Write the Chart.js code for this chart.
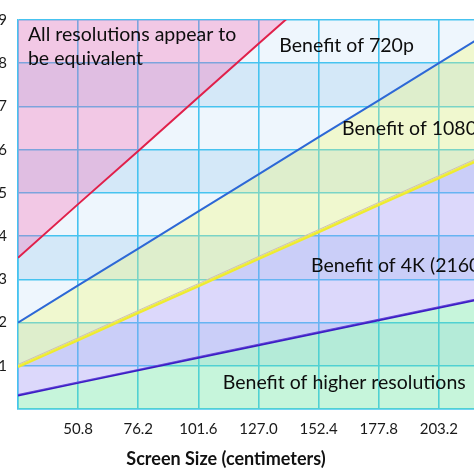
<!DOCTYPE html>
<html>
<head>
<meta charset="utf-8">
<script src="https://cdn.jsdelivr.net/npm/chart.js@4.4.1/dist/chart.umd.min.js"></script>
<style>
  html, body { margin: 0; padding: 0; background: #ffffff; overflow: hidden; width: 474px; height: 474px; }
  #wrap { position: absolute; left: -30px; top: 0; width: 540px; height: 474px; }
  #xtitle { position: absolute; left: 0; top: 447px; width: 452px; text-align: center;
            font: bold 18px Lato, "Open Sans", sans-serif; color: #111; white-space: nowrap; }
</style>
</head>
<body>
<div id="wrap"><canvas id="c" width="540" height="474"></canvas></div>
<div id="xtitle">Screen Size (centimeters)</div>
<script>
// ---- data ----
const screenSizesCm = [25.4, 50.8, 76.2, 101.6, 127.0, 152.4, 177.8, 203.2, 228.6];
const xTickLabels   = ['', '50.8', '76.2', '101.6', '127.0', '152.4', '177.8', '203.2', ''];
const yTickLabels   = ['', '1', '2', '3', '4', '5', '6', '7', '8', '9'];
const limit720p     = [3.50, 4.74, 5.97, 7.21, 8.45, 9.68];
const limit1080p    = [2.00, 2.86, 3.71, 4.57, 5.43, 6.29, 7.14, 8.00, 8.86];
const limit4K       = [0.98, 1.60, 2.23, 2.85, 3.48, 4.10, 4.73, 5.35, 5.98];
const limit4KEdge   = [1.03, 1.65, 2.28, 2.90, 3.53, 4.15, 4.78, 5.40, 6.03];
const limitHigher   = [0.32, 0.61, 0.90, 1.19, 1.48, 1.77, 2.06, 2.35, 2.64];
const regionTexts   = ['All resolutions appear to', 'be equivalent', 'Benefit of 720p',
                       'Benefit of 1080p', 'Benefit of 4K (2160p)', 'Benefit of higher resolutions'];
const regionTextX   = [29.6, 29.6, 135.8, 162.3, 149.2, 111.9];
const regionTextY   = [8.52, 7.95, 8.25, 6.33, 3.17, 0.46];

const pts = (ys) => ys.map((y, i) => ({ x: screenSizesCm[i], y: y }));

const bandPlugin = {
  id: 'bands',
  beforeDraw(chart) {
    const { ctx, chartArea: a, scales: { y } } = chart;
    ctx.save();
    ctx.fillStyle = '#eef6fd';
    ctx.fillRect(a.left, a.top, a.right - a.left, a.bottom - a.top);
    ctx.fillStyle = '#d4e8f8';
    [1, 3, 5, 7].forEach(r => {
      const top = y.getPixelForValue(r + 1), bot = y.getPixelForValue(r);
      ctx.fillRect(a.left, top, a.right - a.left, bot - top);
    });
    ctx.restore();
  }
};

const textPlugin = {
  id: 'regionText',
  afterDatasetsDraw(chart) {
    const { ctx, scales: { x, y } } = chart;
    ctx.save();
    ctx.font = '19.5px Lato, "Open Sans", sans-serif';
    ctx.fillStyle = '#0d0d0d';
    ctx.textAlign = 'left';
    ctx.textBaseline = 'alphabetic';
    regionTexts.forEach((t, i) => {
      ctx.fillText(t, x.getPixelForValue(regionTextX[i]), y.getPixelForValue(regionTextY[i]));
    });
    ctx.restore();
  }
};

const gridColor = 'rgb(70,195,240)';
const tickFont = { family: 'Lato, "Open Sans", sans-serif', size: 15 };

new Chart(document.getElementById('c'), {
  type: 'line',
  data: {
    datasets: [
      { label: '720p', data: pts(limit720p), borderColor: '#e0204a', borderWidth: 2,
        fill: 'end', backgroundColor: 'rgba(251,93,176,0.3)' },
      { label: '1080p', data: pts(limit1080p), borderColor: '#2d68d6', borderWidth: 2,
        fill: { target: 2, above: 'rgba(245,253,103,0.3)', below: 'rgba(0,0,0,0)' } },
      { label: '4K', data: pts(limit4K), borderColor: '#eeea30', borderWidth: 3,
        fill: { target: 3, above: 'rgba(178,146,250,0.3)', below: 'rgba(0,0,0,0)' } },
      { label: 'higher', data: pts(limitHigher), borderColor: '#3a1cc4', borderWidth: 2.5,
        fill: 'start', backgroundColor: 'rgba(105,243,143,0.3)' },
      { label: '4K edge', data: pts(limit4KEdge), borderColor: '#cfc0b4', borderWidth: 1,
        fill: false, order: -1 }
    ]
  },
  options: {
    responsive: false,
    devicePixelRatio: 1,
    animation: false,
    events: [],
    layout: { padding: { top: 14, right: 8, bottom: 0, left: 0 } },
    elements: { line: { tension: 0 }, point: { radius: 0 } },
    plugins: { legend: { display: false }, tooltip: { enabled: false } },
    scales: {
      x: {
        type: 'linear', min: 25.4, max: 228.6,
        afterBuildTicks: (s) => { s.ticks = screenSizesCm.map(v => ({ value: v })); },
        afterFit: (s) => { s.height = 65; },
        grid: { color: gridColor, lineWidth: 1.6, drawTicks: false },
        border: { color: gridColor, width: 1.6 },
        ticks: { padding: 11, color: '#1a1a1a', font: tickFont, maxRotation: 0,
                 autoSkip: false, callback: (v, i) => xTickLabels[i] }
      },
      y: {
        type: 'linear', min: 0, max: 9,
        afterBuildTicks: (s) => { s.ticks = yTickLabels.map((t, i) => ({ value: i })); },
        afterFit: (s) => { s.width = 48; },
        grid: { color: gridColor, lineWidth: 1.6, drawTicks: false },
        border: { color: gridColor, width: 1.6 },
        ticks: { padding: 11, color: '#1a1a1a', font: tickFont, autoSkip: false,
                 callback: (v, i) => yTickLabels[i] }
      }
    }
  },
  plugins: [bandPlugin, textPlugin]
});
</script>
</body>
</html>
